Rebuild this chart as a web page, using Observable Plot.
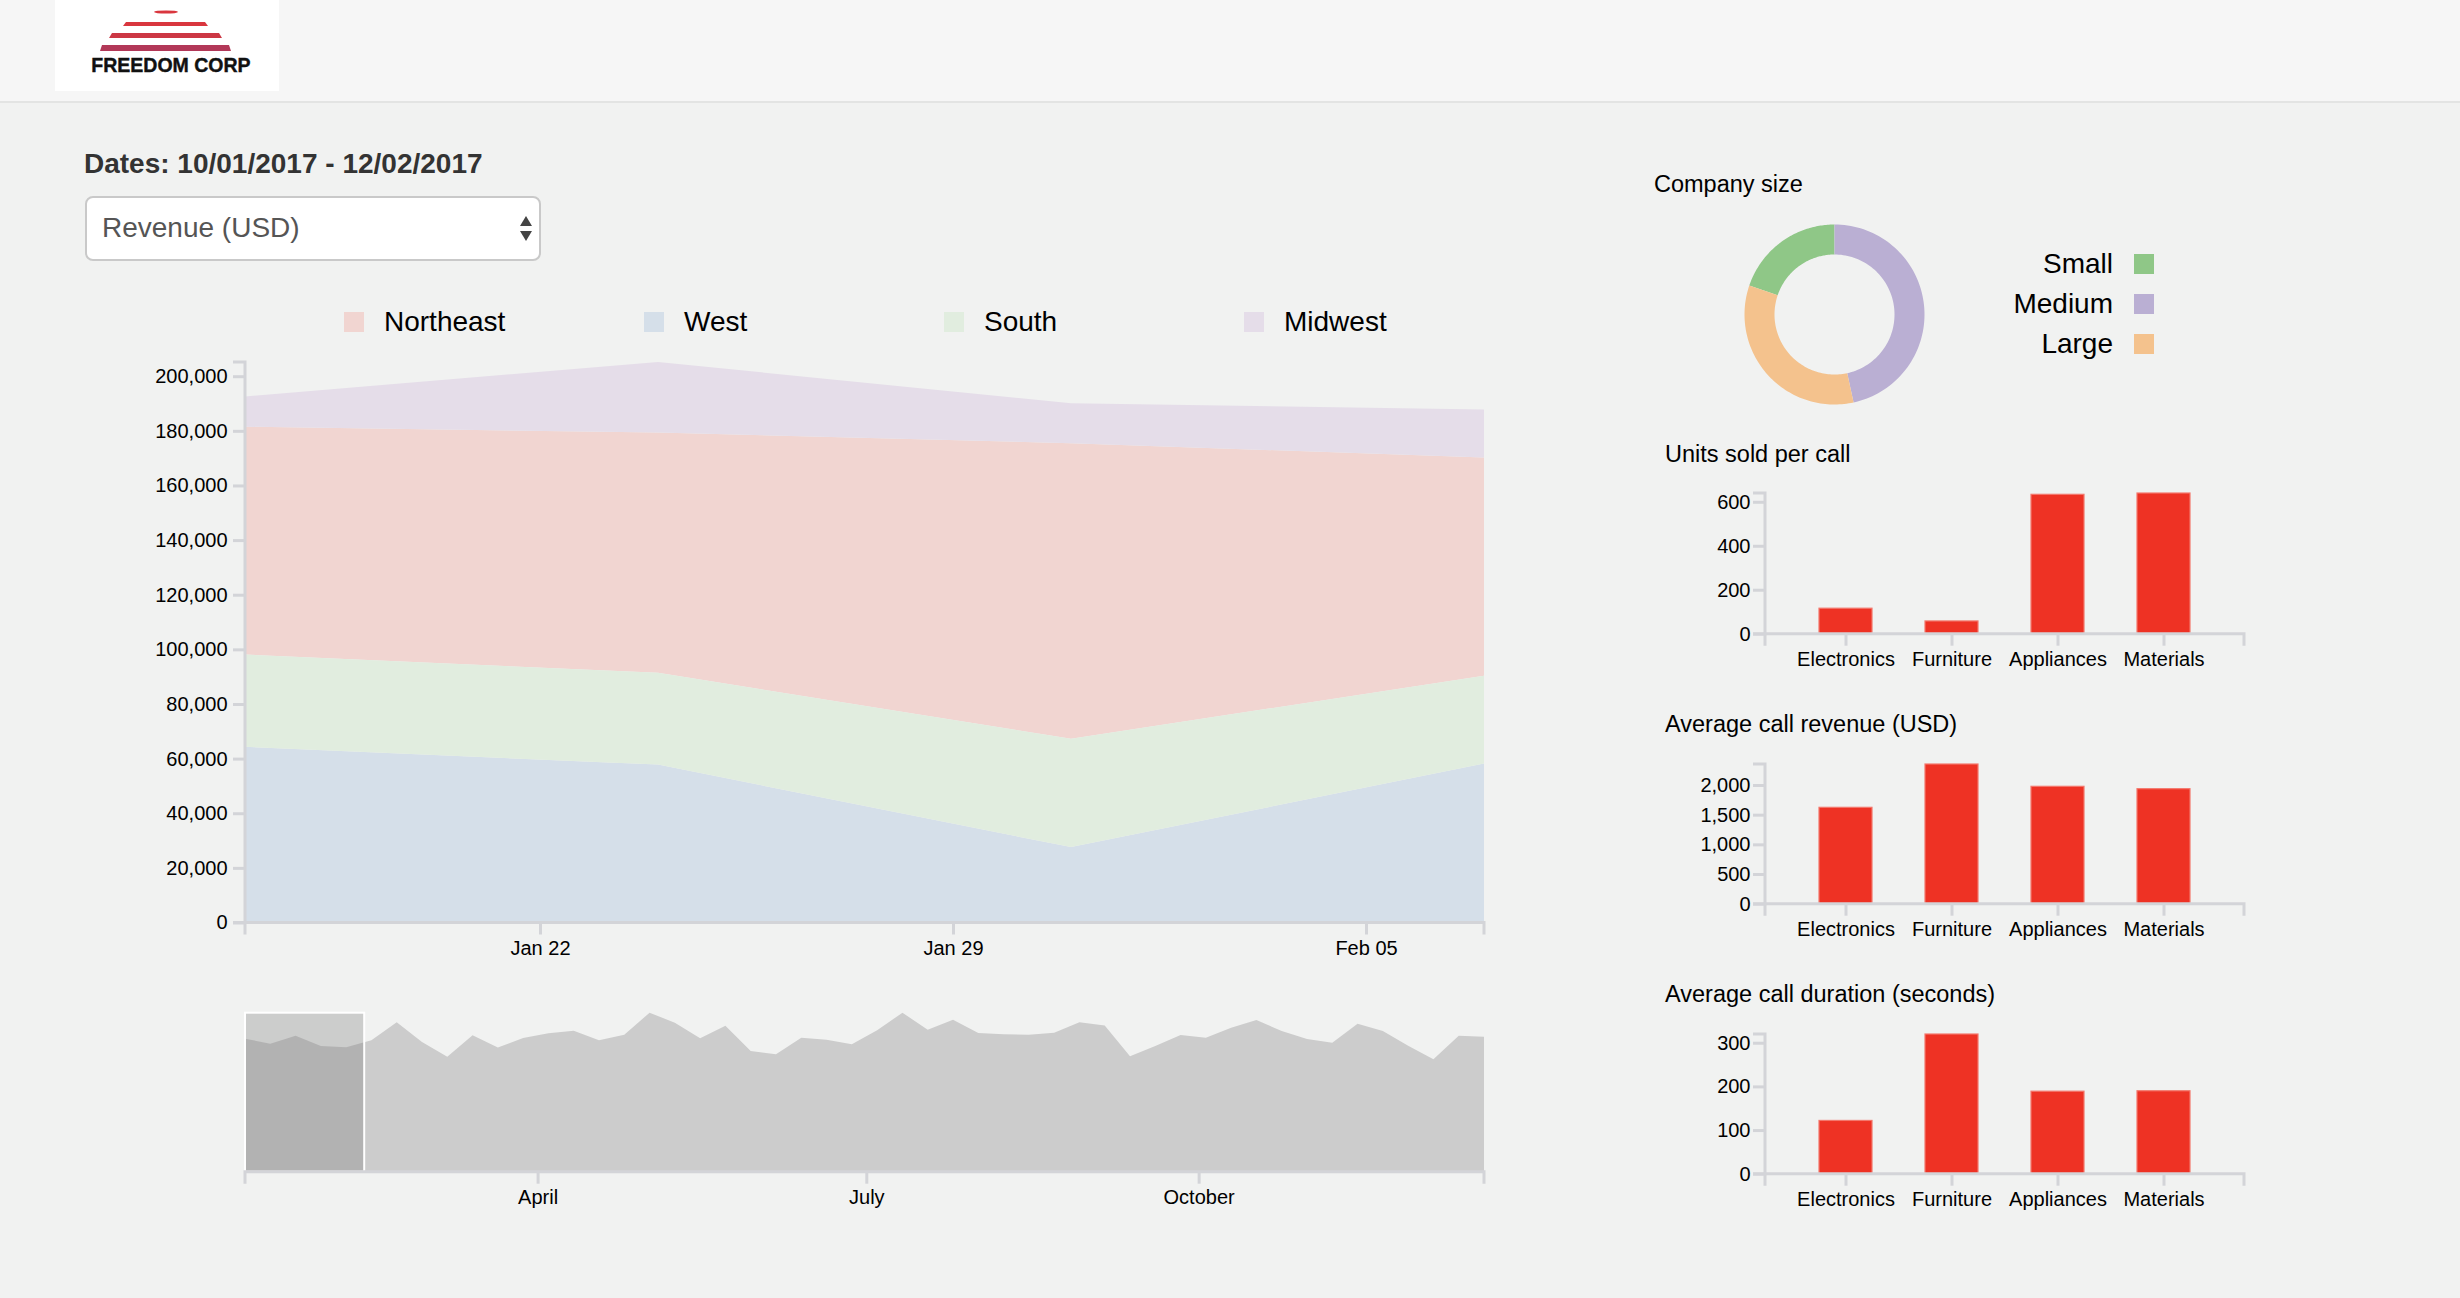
<!DOCTYPE html>
<html>
<head>
<meta charset="utf-8">
<script src="https://cdn.jsdelivr.net/npm/d3@7"></script>
<script src="https://cdn.jsdelivr.net/npm/@observablehq/plot@0.6"></script>
<style>
html,body{margin:0;padding:0;}
body{width:2460px;height:1298px;background:#f1f2f1;position:relative;overflow:hidden;font-family:"Liberation Sans",Arial,Helvetica,sans-serif;color:#000;}
.abs{position:absolute;line-height:1;white-space:nowrap;}
#header{position:absolute;left:0;top:0;width:2460px;height:103px;background:#f6f6f6;border-bottom:2px solid #e3e4e3;box-sizing:border-box;}
#logo{position:absolute;left:55px;top:0;width:224px;height:91px;background:#fff;}
#dates{left:84px;top:150px;font-size:28px;font-weight:bold;color:#333;}
#select{position:absolute;left:85px;top:196px;width:456px;height:65px;background:#fff;border:2px solid #c9c9c9;border-radius:8px;box-sizing:border-box;}
#selText{left:15px;top:16px;font-size:28px;color:#555;}
.tri-up{position:absolute;left:433px;top:18px;width:0;height:0;border-left:6px solid transparent;border-right:6px solid transparent;border-bottom:10px solid #444;}
.tri-dn{position:absolute;left:433px;top:33px;width:0;height:0;border-left:6px solid transparent;border-right:6px solid transparent;border-top:10px solid #444;}
.sw{position:absolute;width:20px;height:20px;}
.leg{font-size:28px;color:#000;}
.title{font-size:23.5px;color:#000;}
.chart{position:absolute;}
</style>
</head>
<body>
<div id="header"></div>
<div id="logo">
  <svg width="224" height="91">
    <ellipse cx="111" cy="12" rx="12" ry="1.6" fill="#d9363e"></ellipse>
    <polygon points="71,22 150,22 153,26 68,26" fill="#d9363e"></polygon>
    <polygon points="57,33 164,33 167,38 54,38" fill="#cc3744"></polygon>
    <polygon points="47,45 174,45 176,51 45,51" fill="#b23858"></polygon>
    <text x="116" y="72" text-anchor="middle" font-family="Liberation Sans, Arial, sans-serif" font-weight="bold" font-size="19.5" fill="#111" stroke="#111" stroke-width="0.4">FREEDOM CORP</text>
  </svg>
</div>
<div id="dates" class="abs">Dates: 10/01/2017 - 12/02/2017</div>
<div id="select"><div id="selText" class="abs">Revenue (USD)</div><div class="tri-up"></div><div class="tri-dn"></div></div>
<div id="mainLegend"></div>
<div id="mainChart" class="chart" style="left:0;top:340px;width:1520px;height:640px;"></div>
<div id="overview" class="chart" style="left:0;top:990px;width:1520px;height:240px;"></div>

<div class="abs title" style="left:1654px;top:173px;">Company size</div>
<div id="donut" class="chart" style="left:1734px;top:214px;width:200px;height:200px;"></div>
<div id="donutLegend"></div>

<div class="abs title" style="left:1665px;top:443px;">Units sold per call</div>
<div id="bar1" class="chart" style="left:1638px;top:480px;width:640px;height:200px;"></div>
<div class="abs title" style="left:1665px;top:713px;">Average call revenue (USD)</div>
<div id="bar2" class="chart" style="left:1638px;top:750px;width:640px;height:200px;"></div>
<div class="abs title" style="left:1665px;top:983px;">Average call duration (seconds)</div>
<div id="bar3" class="chart" style="left:1638px;top:1020px;width:640px;height:200px;"></div>

<script>
// ---------- DATA ----------
const regions = ["Northeast", "West", "South", "Midwest"];
const regionColors = ["#f1d5d1", "#d5dfe9", "#e1eddf", "#e5dde9"];
const stackOrder = ["West", "South", "Northeast", "Midwest"];
const weeks = ["2017-01-17", "2017-01-24", "2017-01-31", "2017-02-07"];
const northeast = [83400, 88000, 108200, 79900];
const west = [64300, 57800, 27600, 58200];
const south = [33800, 33600, 39700, 32100];
const midwest = [11100, 25800, 14600, 17600];

const overviewStart = "2017-01-10";
const overviewTotals = [200400, 192900, 204900, 189400, 187400, 197900, 225000, 195400, 173300, 205400,
  186900, 201400, 208400, 212400, 197900, 206400, 239500, 224400, 200900, 219900,
  181900, 176900, 201900, 198900, 191900, 212900, 239500, 213900, 229000, 208900,
  206900, 206400, 209400, 225000, 220400, 173800, 189400, 205900, 201900, 216900,
  228500, 211900, 199900, 194400, 222900, 211900, 189900, 169300, 204900, 203400];
const brushRange = ["2017-01-10", "2017-02-12"];

const companySizes = ["Small", "Medium", "Large"];
const companyShares = [198, 466, 336];
const sizeColors = ["#8fc787", "#baafd3", "#f4c28d"];

const categories = ["Electronics", "Furniture", "Appliances", "Materials"];
const unitsPerCall = [116, 58, 634, 640];
const callRevenue = [1624, 2354, 1978, 1938];
const callDuration = [122, 320, 189, 190];

// ---------- STYLE ----------
const AXIS = "#d3d4d8";
const FONT = '"Liberation Sans", Arial, Helvetica, sans-serif';
const baseStyle = {background: "transparent", fontFamily: FONT, fontSize: "20px", color: "#000", overflow: "visible", maxWidth: "none"};
const tickOpts = {tickSize: 12, tickPadding: 6, stroke: AXIS, strokeWidth: 3, fill: "#000", fontSize: 20, label: null};

// d3-style axis domain paths (with outer ticks) drawn from the frame dimensions
function getDim(args) {
  return args.find(a => a && typeof a === "object" && a.marginLeft !== undefined && a.width !== undefined);
}
function axisDomain(...args) {
  const {width, height, marginLeft, marginRight, marginTop, marginBottom} = getDim(args);
  const x0 = marginLeft, x1 = width - marginRight, y0 = marginTop, y1 = height - marginBottom;
  const g = d3.create("svg:g").attr("fill", "none").attr("stroke", AXIS).attr("stroke-width", 3);
  g.append("path").attr("d", `M${x0},${y1 + 12}V${y1}H${x1}V${y1 + 12}`);
  g.append("path").attr("d", `M${x0 - 12},${y0}H${x0}V${y1}H${x0 - 12}`);
  return g.node();
}
function axisDomainX(...args) {
  const {width, height, marginLeft, marginRight, marginBottom} = getDim(args);
  const x0 = marginLeft, x1 = width - marginRight, y1 = height - marginBottom;
  const g = d3.create("svg:g").attr("fill", "none").attr("stroke", AXIS).attr("stroke-width", 3);
  g.append("path").attr("d", `M${x0},${y1 + 12}V${y1}H${x1}V${y1 + 12}`);
  return g.node();
}

// ---------- MAIN LEGEND ----------
const ml = document.getElementById("mainLegend");
regions.forEach((r, i) => {
  const sw = document.createElement("div");
  sw.className = "sw";
  sw.style.left = (344 + i * 300) + "px";
  sw.style.top = "312px";
  sw.style.background = regionColors[i];
  ml.appendChild(sw);
  const t = document.createElement("div");
  t.className = "abs leg";
  t.style.left = (384 + i * 300) + "px";
  t.style.top = "308px";
  t.textContent = r;
  ml.appendChild(t);
});

// ---------- MAIN STACKED AREA ----------
const series = {Northeast: northeast, West: west, South: south, Midwest: midwest};
const mainData = weeks.flatMap((w, i) => regions.map(r => ({date: new Date(w), region: r, value: series[r][i]})));
const totals = weeks.map((w, i) => regions.reduce((s, r) => s + series[r][i], 0));

document.getElementById("mainChart").appendChild(Plot.plot({
  width: 1520, height: 640,
  marginLeft: 245, marginRight: 36, marginTop: 22, marginBottom: 57.5,
  style: baseStyle,
  x: {type: "utc", domain: [new Date(weeks[0]), new Date(weeks[weeks.length - 1])]},
  y: {domain: [0, d3.max(totals)]},
  color: {domain: regions, range: regionColors},
  marks: [
    Plot.areaY(mainData, {x: "date", y: "value", z: "region", fill: "region", order: stackOrder}),
    Plot.axisY({...tickOpts, ticks: 10, tickFormat: d3.format(",")}),
    Plot.axisX({...tickOpts, ticks: d3.utcWeek, tickFormat: d3.utcFormat("%b %d")}),
    axisDomain
  ]
}));

// ---------- OVERVIEW (BRUSH) ----------
const ovData = overviewTotals.map((v, i) => ({date: d3.utcDay.offset(new Date(overviewStart), 7 * i), total: v}));
const ovMax = d3.max(overviewTotals);
document.getElementById("overview").appendChild(Plot.plot({
  width: 1520, height: 240,
  marginLeft: 245, marginRight: 36, marginTop: 22.7, marginBottom: 58.3,
  style: baseStyle,
  x: {type: "utc", domain: d3.extent(ovData, d => d.date)},
  y: {domain: [0, ovMax], axis: null},
  marks: [
    Plot.areaY(ovData, {x: "date", y: "total", fill: "#cccccc"}),
    Plot.rect([{a: new Date(brushRange[0]), b: new Date(brushRange[1])}], {x1: "a", x2: "b", y1: () => 0, y2: () => ovMax, fill: "#777", fillOpacity: 0.3, stroke: "#fff", strokeWidth: 2}),
    Plot.axisX({...tickOpts, ticks: d3.utcMonth.every(3), tickFormat: d3.utcFormat("%B")}),
    axisDomainX
  ]
}));

// ---------- DONUT ----------
const pieArcs = d3.pie()(companyShares);
const donutPts = [];
const rOut = 90, rIn = 60;
pieArcs.forEach((a, i) => {
  const n = 80;
  for (let k = 0; k <= n; k++) {
    const t = a.startAngle + (a.endAngle - a.startAngle) * k / n;
    donutPts.push({size: companySizes[i], x: rOut * Math.sin(t), y: rOut * Math.cos(t)});
  }
  for (let k = n; k >= 0; k--) {
    const t = a.startAngle + (a.endAngle - a.startAngle) * k / n;
    donutPts.push({size: companySizes[i], x: rIn * Math.sin(t), y: rIn * Math.cos(t)});
  }
});
document.getElementById("donut").appendChild(Plot.plot({
  width: 200, height: 200, margin: 0,
  style: baseStyle,
  x: {domain: [-100, 100], axis: null},
  y: {domain: [-100, 100], axis: null},
  color: {domain: companySizes, range: sizeColors},
  marks: [
    Plot.line(donutPts, {x: "x", y: "y", z: "size", fill: "size", stroke: null, curve: "linear-closed"})
  ]
}));
const dl = document.getElementById("donutLegend");
companySizes.forEach((s, i) => {
  const t = document.createElement("div");
  t.className = "abs leg";
  t.style.left = "1913px";
  t.style.width = "200px";
  t.style.textAlign = "right";
  t.style.top = (250 + i * 40) + "px";
  t.textContent = s;
  dl.appendChild(t);
  const sw = document.createElement("div");
  sw.className = "sw";
  sw.style.left = "2134px";
  sw.style.top = (254 + i * 40) + "px";
  sw.style.background = sizeColors[i];
  dl.appendChild(sw);
});

// ---------- BAR CHARTS ----------
function barChart(id, values, marginTop) {
  const data = categories.map((c, i) => ({cat: c, value: values[i]}));
  document.getElementById(id).appendChild(Plot.plot({
    width: 640, height: 200,
    marginLeft: 127, marginRight: 34, marginTop: marginTop, marginBottom: 46.3,
    style: baseStyle,
    x: {domain: categories, padding: 0.5},
    y: {domain: [0, d3.max(values)]},
    marks: [
      Plot.barY(data, {x: "cat", y: "value", fill: "#ee3224", stroke: "#f3776c", strokeWidth: 1.2}),
      Plot.axisY({...tickOpts, ticks: 4, tickPadding: 3, tickFormat: d3.format(",")}),
      Plot.axisX({...tickOpts}),
      axisDomain
    ]
  }));
}
barChart("bar1", unitsPerCall, 13);
barChart("bar2", callRevenue, 14);
barChart("bar3", callDuration, 14);
</script>
</body>
</html>
